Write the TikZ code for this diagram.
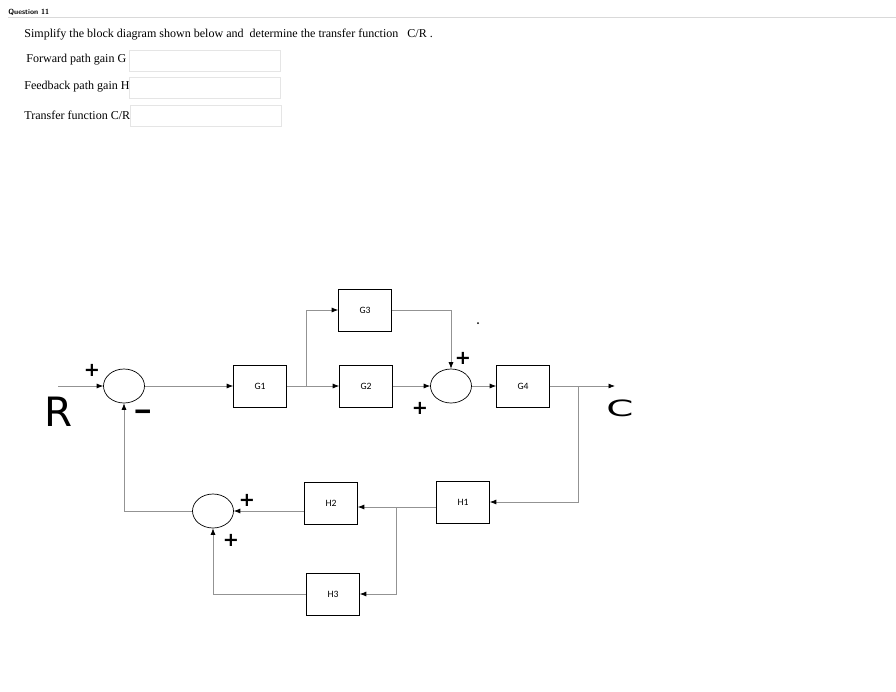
\documentclass[tikz,border=0pt]{standalone}
\usepackage{fontspec}
\setmainfont{Liberation Serif}
\newfontfamily\boxfont{Carlito}
\newfontfamily\handfont{DejaVu Sans}
\usetikzlibrary{shapes.geometric,arrows.meta}

\tikzset{
  blk/.style={draw, minimum width=1.06cm, minimum height=0.84cm, inner sep=0pt, font=\boxfont\fontsize{5.5}{6}\selectfont},
  summ/.style={draw, ellipse, minimum width=0.82cm, minimum height=0.68cm, inner sep=0pt},
  sig/.style={draw=gray!85, -{Latex[length=1.3mm,width=1mm,color=black]}},
  wire/.style={draw=gray!85},
  sgn/.style={font=\handfont\bfseries\fontsize{11}{11}\selectfont, inner sep=0pt},
  field/.style={draw=gray!20, minimum width=3.02cm, minimum height=0.42cm, inner sep=0pt},
  qtext/.style={anchor=west, inner sep=0pt, font=\fontsize{6.85}{8}\selectfont}
}

\begin{document}
\begin{tikzpicture}[x=0.02cm, y=-0.02cm] % pixel grid, y going down
\useasboundingbox (0,0) rectangle (896,691);

% header and question
\node[anchor=west, inner sep=0pt, font=\sffamily\bfseries\fontsize{4.2}{5}\selectfont] (qno) at (8,12) {Question 11};
\draw[gray!30] (8,17) -- (896,17);
\node[qtext] (qline) at (24,35) {Simplify the block diagram shown below and\ \ determine the transfer function\ \ \ C/R .};
\node[qtext] (fwd) at (26,60) {Forward path gain G};
\node[qtext] (fbk) at (24,87) {Feedback path gain H};
\node[qtext] (tf) at (24,115) {Transfer function C/R};
\node[field] (fwdbox) at (205,61) {};
\node[field] (fbkbox) at (205,88) {};
\node[field] (tfbox) at (206,116) {};

% blocks and summing points
\node[summ] (s1) at (124,386) {};
\node[blk] (g1) at (260,386) {G1};
\node[blk] (g3) at (365,310) {G3};
\node[blk] (g2) at (366,386) {G2};
\node[summ] (s2) at (451,386) {};
\node[blk] (g4) at (523,386) {G4};
\node[blk] (h1) at (463,502) {H1};
\node[blk] (h2) at (331,503) {H2};
\node[blk] (h3) at (333,594) {H3};
\node[summ] (s3) at (213,511) {};

\coordinate (rin) at (58,386);
\coordinate (cout) at (615,386);
\coordinate (b1) at (306,386);
\coordinate (b2) at (578,386);
\coordinate (b3) at (396,507);

% forward path
\draw[sig] (rin) -- (s1.west);
\draw[sig] (s1.east) -- (g1.west);
\draw[wire] (g1.east) -- (b1);
\draw[sig] (b1) -- (g2.west);
\draw[sig] (b1) |- (g3.west);
\draw[sig] (g3.east) -| (s2.north);
\draw[sig] (g2.east) -- (s2.west);
\draw[sig] (s2.east) -- (g4.west);
\draw[sig] (g4.east) -- (cout);

% feedback paths
\draw[sig] (b2) |- (h1.east);
\draw[wire] (b3 -| h1.west) -- (b3);
\draw[sig] (b3) -- (b3 -| h2.east);
\draw[sig] (b3) |- (h3.east);
\draw[sig] (s3.east -| h2.west) -- (s3.east);
\draw[sig] (h3.west) -| (s3.south);
\draw[sig] (s3.west) -| (s1.south);

% signs and signal names
\foreach \pos in {(92,370),(463,358),(420,408),(247,500),(231,540)}{\node[sgn] at \pos {+};}
\node[sgn] (minus) at (143,416) {\scalebox{1.2}[1.6]{\symbol{"2212}}};
\node[font=\handfont\fontsize{23}{23}\selectfont, inner sep=0pt] (rlab) at (59,412) {R};
\node[font=\handfont\fontsize{17}{17}\selectfont, inner sep=0pt] (clab) at (620,408) {\scalebox{1.3}[0.75]{C}};
\fill (478,323) circle (1);
\end{tikzpicture}
\end{document}
